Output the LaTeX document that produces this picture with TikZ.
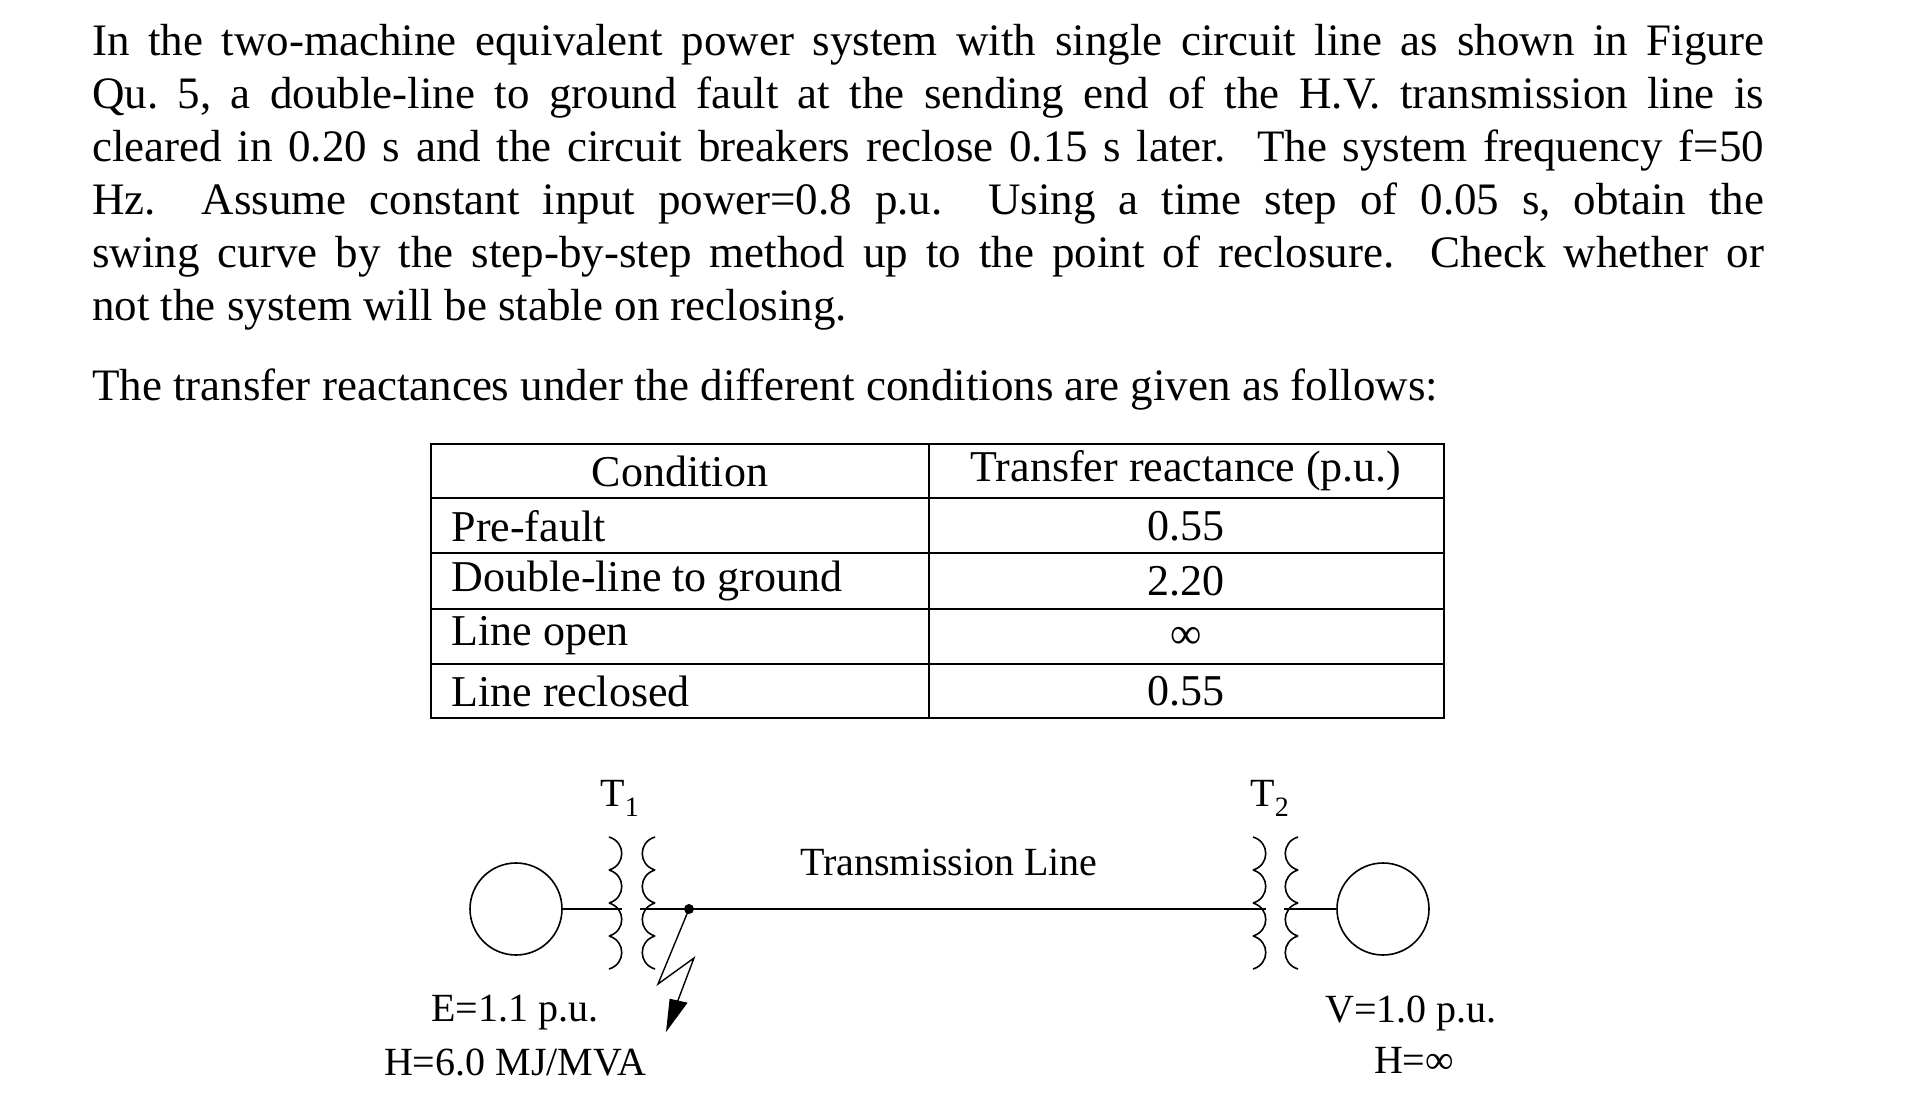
\documentclass[tikz,border=0pt]{standalone}
\usepackage{fontspec}
\setmainfont{Liberation Serif}
\usetikzlibrary{calc}
\begin{document}
\frenchspacing
\begin{tikzpicture}[x=1pt,y=-1pt,
  txt/.style={font=\fontsize{45}{53}\selectfont},
  tbl/.style={font=\fontsize{44}{50}\selectfont},
  lbl/.style={font=\fontsize{40}{48}\selectfont},
  wire/.style={line width=2.2pt},
  coil/.style={line width=1.6pt}]
\useasboundingbox (0,0) rectangle (1922,1094);
\node[txt,anchor=north west,inner sep=0,align=justify,text width=1672pt] (para) at (92,24) {%
In the two-machine equivalent power system with single circuit line as shown in Figure\linebreak
Qu. 5, a double-line to ground fault at the sending end of the H.V. transmission line is\linebreak
cleared in 0.20 s and the circuit breakers reclose 0.15 s later.\ \ The system frequency f=50\linebreak
Hz.\ \ Assume constant input power=0.8 p.u.\ \ Using a time step of 0.05 s, obtain the\linebreak
swing curve by the step-by-step method up to the point of reclosure.\ \ Check whether or\linebreak
not the system will be stable on reclosing.};
\node[txt,anchor=west,inner sep=0] (intro) at (92,390) {The transfer reactances under the different conditions are given as follows:};
% table
\draw[line width=1.3pt] (431,444) rectangle (1444,718);
\foreach \y in {498,553,609,664} \draw[line width=1.3pt] (431,\y) -- (1444,\y);
\draw[line width=1.3pt] (929,444) -- (929,718);
\node[tbl] (h1) at (680,471) {Condition};
\node[tbl] (h2) at (1186,471) {Transfer reactance (p.u.)};
\node[tbl,anchor=west] (r1) at (448,526) {Pre-fault};
\node[tbl,anchor=west] (r2) at (448,581) {Double-line to ground};
\node[tbl,anchor=west] (r3) at (448,636) {Line open};
\node[tbl,anchor=west] (r4) at (448,691) {Line reclosed};
\node[tbl] (v1) at (1186,526) {0.55};
\node[tbl] (v2) at (1186,581) {2.20};
\node[tbl] (v3) at (1186,638) {∞};
\node[tbl] (v4) at (1186,691) {0.55};
% diagram
\node[draw,circle,line width=1.6pt,minimum size=92pt,inner sep=0] (G) at (516,909) {};
\node[draw,circle,line width=1.6pt,minimum size=92pt,inner sep=0] (M) at (1383,909) {};
\coordinate (t1a) at (622,909); \coordinate (t1b) at (640,909);
\coordinate (t2a) at (1266,909); \coordinate (t2b) at (1284,909);
\foreach \xa/\xb in {609/655,1253/1298}{
  \foreach \i in {0,1,2,3}{
    \draw[coil] (\xa,837+33*\i) .. controls (\xa+17,842+33*\i) and (\xa+17,865+33*\i) .. (\xa,870+33*\i);
    \draw[coil] (\xb,837+33*\i) .. controls (\xb-17,842+33*\i) and (\xb-17,865+33*\i) .. (\xb,870+33*\i);
  }
}
\coordinate (dot) at (689,909);
\draw[wire] (G.east) -- (t1a);
\draw[wire] (t1b) -- (dot) -- (t2a);
\draw[wire] (t2b) -- (M.west);
\fill (dot) circle (5pt);
\coordinate (z1) at (658,984); \coordinate (z2) at (694,958); \coordinate (tip) at (666,1032);
\draw[line width=1.4pt] (dot) -- (z1) -- (z2) -- ($(z2)!0.6!(tip)$);
\fill ($(z2)!0.55!(tip)+(-9,0)$) -- ($(z2)!0.55!(tip)+(9,4)$) -- (tip) -- cycle;
\node[lbl] (T1) at (620,798) {T\textsubscript{1}};
\node[lbl] (T2) at (1270,798) {T\textsubscript{2}};
\node[lbl] (TL) at (949,862) {Transmission Line};
\node[lbl] (E) at (515,1013) {E=1.1 p.u.};
\node[lbl] (H1) at (515,1062) {H=6.0 MJ/MVA};
\node[lbl] (V) at (1411,1013) {V=1.0 p.u.};
\node[lbl] (H2) at (1414,1060) {H=∞};
\end{tikzpicture}
\end{document}
